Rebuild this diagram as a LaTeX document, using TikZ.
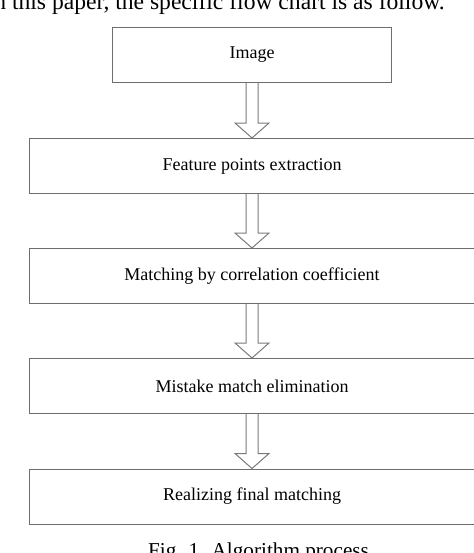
\documentclass[tikz,border=0pt]{standalone}
\usepackage{fontspec}
\setmainfont{Liberation Serif}
\usepackage{tikz}
\usetikzlibrary{calc}
\definecolor{boxline}{HTML}{6E6E6E}
\definecolor{arrowline}{HTML}{7A7A7A}
\tikzset{
  procbox/.style={
    draw=boxline,
    line width=0.75pt,
    minimum height=41.25pt,
    inner sep=0pt,
    align=center,
    font=\fontsize{13.5}{16}\selectfont
  },
  widebox/.style={procbox, minimum width=334.5pt},
  narrowbox/.style={procbox, minimum width=209.25pt},
  flowarrow/.style={draw=arrowline, line width=0.75pt, line join=miter}
}
% hollow block arrow from one box down to the next
\newcommand{\hollowarrow}[2]{%
  \draw[flowarrow] ($(#1.south)+(-6,0)$) -- ($(#2.north)+(-6,-15)$)
    -- ($(#2.north)+(-17,-15)$) -- (#2.north)
    -- ($(#2.north)+(17,-15)$) -- ($(#2.north)+(6,-15)$)
    -- ($(#1.south)+(6,0)$);%
}

\begin{document}
\begin{tikzpicture}[x=0.75pt, y=-0.75pt]
  \useasboundingbox (0,0) rectangle (474,553);
  \clip (0,0) rectangle (474,553);

  % Text around the chart
  \node[anchor=base east, inner sep=0pt, font=\fontsize{17.7}{20}\selectfont] (intro) at (445,9)
    {In this paper, the specific flow chart is as follow.};
  \node[anchor=base, inner sep=0pt, font=\fontsize{15.9}{18}\selectfont] (caption) at (258.5,557)
    {Fig. 1. Algorithm process};

  % Boxes
  \node[narrowbox] (img) at (252,54.5) {Image};
  \node[widebox] (feat) at (252,166) {Feature points extraction};
  \node[widebox] (match) at (252,276) {Matching by correlation coefficient};
  \node[widebox] (elim) at (252,386) {Mistake match elimination};
  \node[widebox] (final) at (252,496.5) {Realizing final matching};

  % Arrows
  \hollowarrow{img}{feat}
  \hollowarrow{feat}{match}
  \hollowarrow{match}{elim}
  \hollowarrow{elim}{final}
\end{tikzpicture}
\end{document}
